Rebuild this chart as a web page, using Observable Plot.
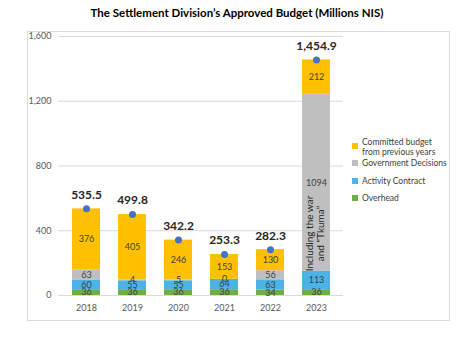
<!DOCTYPE html>
<html><head><meta charset="utf-8">
<script src="https://cdn.jsdelivr.net/npm/d3@7"></script>
<script src="https://cdn.jsdelivr.net/npm/@observablehq/plot@0.6"></script>
<style>
body{margin:0;background:#fff;font-family:Lato,"Open Sans",sans-serif;}
#title{position:absolute;left:0;top:6px;width:474px;text-align:center;font-weight:bold;font-size:11.5px;color:#000}
#frame{position:absolute;left:27px;top:31px;width:421px;height:288px;border:1px solid #d9d9d9}
#chart{position:absolute;left:0;top:0}
#chart svg{overflow:visible}
.lg{position:absolute;font-size:8.5px;color:#404040;line-height:10px;white-space:nowrap}
.sw{position:absolute;width:6px;height:6px}
</style></head>
<body>
<div id="title">The Settlement Division’s Approved Budget (Millions NIS)</div>
<div id="frame"><div id="chart"></div></div>
<div id="legend"></div>
<script>
const years = ["2018","2019","2020","2021","2022","2023"];
const overhead = [36,36,36,36,34,36];
const activity = [60,55,55,64,63,113];
const government = [63,4,5,0,56,1094];
const committed = [376,405,246,153,130,212];
const totals = [535.5,499.8,342.2,253.3,282.3,1454.9];
const seriesNames = ["Overhead","Activity Contract","Government Decisions","Committed budget from previous years"];
const seriesColors = ["#70AD47","#4BB3E6","#BFBFBF","#FFC000"];
const yTicks = [0,400,800,1200,1600];
const noteLines = ["Including the war", "and “Tkuma”"];
const noteYear = "2023";
const noteValue = 383;

const seriesValues = [overhead, activity, government, committed];
const data = [];
seriesNames.forEach((s, i) => years.forEach((y, j) => data.push({year: y, series: s, value: seriesValues[i][j]})));
const tot = years.map((y, j) => ({year: y, total: totals[j]}));

const chart = Plot.plot({
  width: 421, height: 288,
  marginTop: 4, marginBottom: 25, marginLeft: 30, marginRight: 106,
  style: {fontFamily: "Lato, 'Open Sans', sans-serif", fontSize: "9px", color: "#595959", background: "transparent"},
  x: {domain: years, paddingInner: 0.4, paddingOuter: 0.25, label: null, tickSize: 0, tickPadding: 9},
  y: {domain: [0, 1600], ticks: yTicks, tickFormat: d3.format(","), label: null, tickSize: 0, tickPadding: 7},
  color: {domain: seriesNames, range: seriesColors},
  marks: [
    Plot.ruleY(yTicks, {stroke: "#d9d9d9", strokeWidth: 1}),
    Plot.barY(data, {x: "year", y: "value", fill: "series", z: "series", order: seriesNames}),
    Plot.text(data, Plot.stackY({x: "year", y: "value", z: "series", order: seriesNames, text: d => String(d.value), fill: "#404040", fontSize: 9})),
    Plot.text([{year: noteYear, v: noteValue}], {x: "year", y: "v", text: () => noteLines[0], rotate: -90, fontSize: 10, fill: "#262626", dx: -7}),
    Plot.text([{year: noteYear, v: noteValue}], {x: "year", y: "v", text: () => noteLines[1], rotate: -90, fontSize: 10, fill: "#262626", dx: 4}),
    Plot.dot(tot, {x: "year", y: "total", r: 3.5, fill: "#4472C4"}),
    Plot.text(tot, {x: "year", y: "total", text: d => d3.format(",.1f")(d.total), dy: -14, fontWeight: "bold", fontSize: 12, fill: "#262626"})
  ]
});
document.getElementById("chart").appendChild(chart);

// legend (top to bottom: reverse order)
const lg = document.getElementById("legend");
const legendItems = [
  {name: "Committed budget<br>from previous years", color: seriesColors[3], top: 137, sw: 143},
  {name: seriesNames[2], color: seriesColors[2], top: 158, sw: 160},
  {name: seriesNames[1], color: seriesColors[1], top: 176, sw: 178},
  {name: seriesNames[0], color: seriesColors[0], top: 193, sw: 195}
];
legendItems.forEach(it => {
  const s = document.createElement("div");
  s.className = "sw"; s.style.left = "352px"; s.style.top = it.sw + "px"; s.style.background = it.color;
  lg.appendChild(s);
  const t = document.createElement("div");
  t.className = "lg"; t.style.left = "362px"; t.style.top = it.top + "px"; t.innerHTML = it.name;
  lg.appendChild(t);
});
</script>
</body></html>
